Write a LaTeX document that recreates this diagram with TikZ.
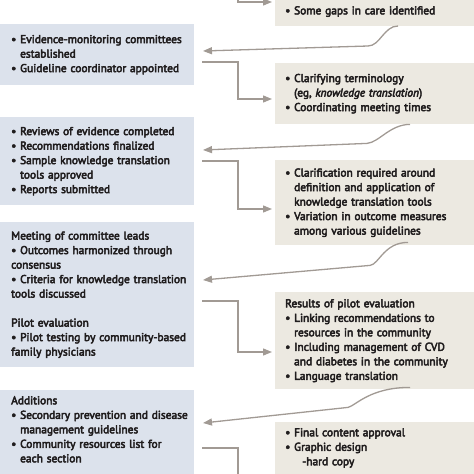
\documentclass[tikz,border=0pt]{standalone}
\usepackage{fontspec}
\setmainfont{PT Sans}[FakeBold=4]
\usepackage{tikz}
\usetikzlibrary{arrows.meta, positioning, backgrounds}
\definecolor{leftfill}{RGB}{220,226,236}
\definecolor{rightfill}{RGB}{236,233,225}
\definecolor{linkgray}{RGB}{161,154,148}
\definecolor{inkgray}{RGB}{32,29,30}
\newcommand{\nx}{\phantom{\textbullet\ }}

\begin{document}
\begin{tikzpicture}[x=1pt, y=-1pt, font=\fontsize{11.4}{14.5}\selectfont, text=inkgray,
  lbox/.style={anchor=north west, text width=185pt, inner xsep=11pt, inner ysep=6pt, align=left},
  rbox/.style={fill=rightfill, anchor=north west, text width=190pt, inner xsep=10pt, inner ysep=6pt, align=left},
  back/.style={draw=linkgray, line width=1.3pt, -{Triangle[length=9pt, width=7pt]}},
  fwd/.style={back}]
\useasboundingbox (0,0) rectangle (474,474);
\clip (0,0) rectangle (474,474);

% left column
\node[lbox, minimum height=61pt] (established) at (0,24) {\textbullet\ Evidence-monitoring committees\\\nx established\\\textbullet\ Guideline coordinator appointed};
\node[lbox, minimum height=88pt, yshift=-2pt] (reviews) at (0,115) {\textbullet\ Reviews of evidence completed\\\textbullet\ Recommendations finalized\\\textbullet\ Sample knowledge translation\\\nx tools approved\\\textbullet\ Reports submitted};
\node[lbox, minimum height=145pt] (leads) at (0,222) {Meeting of committee leads\\\textbullet\ Outcomes harmonized through\\consensus\\\textbullet\ Criteria for knowledge translation\\tools discussed\\[14.5pt]Pilot evaluation\\\textbullet\ Pilot testing by community-based\\family physicians};
\node[lbox, text depth=100pt] (additions) at (0,390) {Additions\\\textbullet\ Secondary prevention and disease\\\nx management guidelines\\\textbullet\ Community resources list for\\\nx each section};
\begin{scope}[on background layer]
\foreach \n in {established, reviews, leads, additions}
  \fill[leftfill] (\n.north west) rectangle ([xshift=194pt]\n.south west);
\end{scope}

% right column
\node[rbox, anchor=south west, inner ysep=9pt] (gaps) at (275,26) {\mbox{}\\\textbullet\ Some gaps in care identified};
\node[rbox, minimum height=61pt] (terms) at (275,63) {\textbullet\ Clarifying terminology\\\nx (eg, \textit{knowledge translation})\\\textbullet\ Coordinating meeting times};
\node[rbox, minimum height=85pt] (clarify) at (275,160) {\textbullet\ Clarification required around\\\nx definition and application of\\\nx knowledge translation tools\\\textbullet\ Variation in outcome measures\\\nx among various guidelines};
\node[rbox, minimum height=97pt] (results) at (275,292) {Results of pilot evaluation\\\textbullet\ Linking recommendations to\\\nx resources in the community\\\textbullet\ Including management of CVD\\\nx and diabetes in the community\\\textbullet\ Language translation};
\node[rbox, text depth=60pt] (design) at (275,422) {\textbullet\ Final content approval\\\textbullet\ Graphic design\\\nx\hspace*{8pt}-hard copy};

% feedback arrows
\draw[back] ([xshift=123pt]gaps.south west) .. controls +(-14,0) and +(12,0) .. ++(-30,20) -- ([xshift=203pt, yshift=-27pt]established.north west);
\draw[back] ([xshift=135pt]terms.south west) .. controls +(-20,0) and +(12,-1) .. ++(-43,19) -- ([xshift=203pt, yshift=-33pt]reviews.north west);
\draw[back] ([xshift=133pt, yshift=3pt]clarify.south west) .. controls +(-24,0) and +(9,-1) .. ++(-38,23) -- ([xshift=203pt, yshift=-58pt]leads.north west);
\draw[back] ([xshift=135pt, yshift=2pt]results.south west) .. controls +(-40,0) and +(8,-2) .. ++(-62,20) -- ([xshift=203pt, yshift=-33pt]additions.north west);

% forward arrows
\coordinate (prev) at (238,-20);
\coordinate (next) at (238,490);
\draw[fwd] (prev) |- ([xshift=-3pt]gaps.west |- 0,2);
\draw[fwd] ([xshift=202pt, yshift=-38pt]established.north west) -- ++(36,0) |- ([xshift=-3pt, yshift=-36pt]terms.north west);
\draw[fwd] ([xshift=202pt, yshift=-44pt]reviews.north west) -- ++(36,0) |- ([xshift=-3pt, yshift=-49pt]clarify.north west);
\draw[fwd] ([xshift=202pt, yshift=-79pt]leads.north west) -- ++(36,0) |- ([xshift=-3pt, yshift=-60pt]results.north west);
\draw[draw=linkgray, line width=1.3pt] ([xshift=202pt, yshift=-58pt]additions.north west) -| (next);
\end{tikzpicture}
\end{document}
